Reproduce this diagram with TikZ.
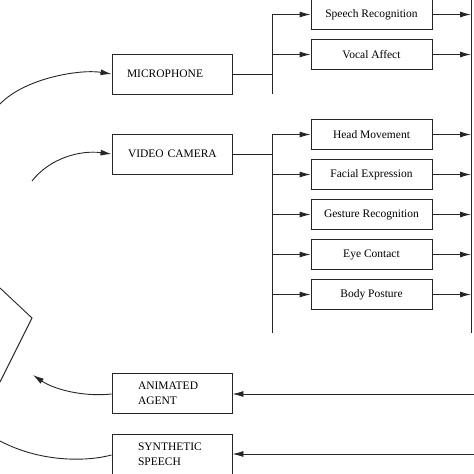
\documentclass[tikz,border=0pt]{standalone}
\usepackage{fontspec}
\setmainfont{Liberation Serif}
\usetikzlibrary{arrows.meta}
\begin{document}
\begin{tikzpicture}[x=1pt,y=-1pt,
  ln/.style={line width=0.9pt, draw=black!85},
  box/.style={ln, minimum width=120pt, minimum height=40pt, inner ysep=0pt,
    align=left, font=\fontsize{11.5}{15.5}\selectfont},
  sbox/.style={ln, minimum width=121pt, minimum height=29.5pt, inner sep=0pt,
    font=\fontsize{11.5}{14}\selectfont},
  arr/.style={ln, -{Latex[length=11pt,width=6pt]}}
]
\useasboundingbox (0,0) rectangle (474,474);
\clip (0,0) rectangle (474,474);
% source boxes
\node[box, inner xsep=15pt, text width=90pt] (mic) at (172,74) {MICROPHONE};
\node[box, inner xsep=16pt, text width=88pt] (cam) at (172,154) {\mbox{VIDEO CAMERA}};
\node[box, inner xsep=26pt, text width=68pt] (agent) at (172,393.5) {ANIMATED\\AGENT};
\node[box, inner xsep=26pt, text width=68pt] (speech) at (172,454) {SYNTHETIC\\SPEECH};
% analysis boxes
\node[sbox] (sr) at (371.5,14.5) {Speech Recognition};
\node[sbox] (va) at (371.5,54.5) {Vocal Affect};
\node[sbox] (hm) at (371.5,134.5) {Head Movement};
\node[sbox] (fe) at (371.5,174.5) {Facial Expression};
\node[sbox] (gr) at (371.5,214.5) {Gesture Recognition};
\node[sbox] (ec) at (371.5,254.5) {Eye Contact};
\node[sbox] (bp) at (371.5,294.5) {Body Posture};
% bus coordinates
\coordinate (m1) at (272,74);
\coordinate (m1t) at (272,14.5);
\coordinate (m1a) at (272,54.5);
\coordinate (m1b) at (272,94);
\coordinate (c1) at (272,154);
\coordinate (c1t) at (272,134.5);
\coordinate (c1b) at (272,333);
\coordinate (r1t) at (471,-2);
\coordinate (r1b) at (471,333);
\coordinate (ra) at (474,394);
\coordinate (rs) at (474,454);
% microphone bus
\draw[ln] (mic.east) -- (m1);
\draw[ln] (m1t) -- (m1b);
\draw[arr] (m1t) -- (sr.west);
\draw[arr] (m1a) -- (va.west);
% camera bus
\draw[ln] (cam.east) -- (c1);
\draw[ln] (c1t) -- (c1b);
\foreach \n in {hm,fe,gr,ec,bp} {
  \draw[arr] (c1|-\n.west) -- (\n.west);
}
% right bus
\draw[ln] (r1t) -- (r1b);
\foreach \n in {sr,va,hm,fe,gr,ec,bp} {
  \draw[arr] (\n.east) -- (r1t|-\n.east);
}
% outputs
\draw[arr] (ra) -- (agent.east|-ra);
\draw[arr] (rs) -- (speech.east|-rs);
% person shape
\coordinate (p1) at (0,288);
\coordinate (p2) at (32,318);
\coordinate (p3) at (0,382);
\draw[ln] (p1) -- (p2) -- (p3);
% curved links
\coordinate (q1) at (0,104);
\coordinate (q2) at (32,181);
\coordinate (q3) at (33,375);
\coordinate (q4) at (0,441);
\draw[arr] (q1) .. controls (25,78) and (80,69) .. (mic.west);
\draw[arr] (q2) .. controls (50,158) and (80,150) .. (cam.west);
\draw[arr] (agent.west|-0,394) .. controls (85,397) and (55,390) .. (q3);
\draw[ln] (speech.west|-0,455) .. controls (85,462) and (40,462) .. (q4);
\end{tikzpicture}
\end{document}
